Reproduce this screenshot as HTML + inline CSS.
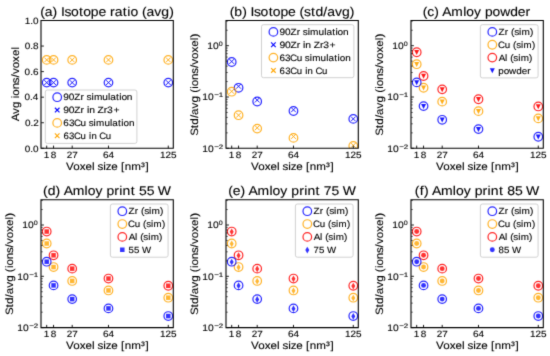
<!DOCTYPE html>
<html><head><meta charset="utf-8"><style>
html,body{margin:0;padding:0;background:#fff;}
svg{display:block;}
text{font-family:"Liberation Sans",sans-serif;fill:#000;text-rendering:geometricPrecision;stroke:#000;stroke-width:0.12px;}
</style></head><body>
<svg width="550" height="356" viewBox="0 0 550 356">
<defs><clipPath id="c00"><rect x="41.20" y="20.50" width="132.10" height="127.80"/></clipPath><clipPath id="c01"><rect x="41.20" y="199.80" width="132.10" height="127.80"/></clipPath><clipPath id="c10"><rect x="226.20" y="20.50" width="132.10" height="127.80"/></clipPath><clipPath id="c11"><rect x="226.20" y="199.80" width="132.10" height="127.80"/></clipPath><clipPath id="c20"><rect x="411.20" y="20.50" width="132.10" height="127.80"/></clipPath><clipPath id="c21"><rect x="411.20" y="199.80" width="132.10" height="127.80"/></clipPath><filter id="bl" x="0" y="0" width="550" height="356" filterUnits="userSpaceOnUse" color-interpolation-filters="sRGB"><feConvolveMatrix order="3" kernelMatrix="0.0144 0.0912 0.0144 0.0912 0.5776 0.0912 0.0144 0.0912 0.0144" divisor="1" edgeMode="duplicate"/></filter></defs>
<g filter="url(#bl)">
<rect width="550" height="356" fill="#fff"/>
<g clip-path="url(#c00)">
<circle cx="46.70" cy="82.60" r="4.3" fill="none" stroke="#0000ff" stroke-width="1.2" stroke-opacity="0.85"/>
<circle cx="53.56" cy="82.60" r="4.3" fill="none" stroke="#0000ff" stroke-width="1.2" stroke-opacity="0.85"/>
<circle cx="72.19" cy="82.60" r="4.3" fill="none" stroke="#0000ff" stroke-width="1.2" stroke-opacity="0.85"/>
<circle cx="108.47" cy="82.60" r="4.3" fill="none" stroke="#0000ff" stroke-width="1.2" stroke-opacity="0.85"/>
<circle cx="168.28" cy="82.60" r="4.3" fill="none" stroke="#0000ff" stroke-width="1.2" stroke-opacity="0.85"/>
<path d="M44.30,80.20L49.10,85.00M44.30,85.00L49.10,80.20" stroke="#0000ff" stroke-width="0.9" fill="none"/>
<path d="M51.16,80.20L55.96,85.00M51.16,85.00L55.96,80.20" stroke="#0000ff" stroke-width="0.9" fill="none"/>
<path d="M69.79,80.20L74.59,85.00M69.79,85.00L74.59,80.20" stroke="#0000ff" stroke-width="0.9" fill="none"/>
<path d="M106.07,80.20L110.87,85.00M106.07,85.00L110.87,80.20" stroke="#0000ff" stroke-width="0.9" fill="none"/>
<path d="M165.88,80.20L170.68,85.00M165.88,85.00L170.68,80.20" stroke="#0000ff" stroke-width="0.9" fill="none"/>
<circle cx="46.70" cy="59.90" r="4.3" fill="none" stroke="#ffa500" stroke-width="1.2" stroke-opacity="0.85"/>
<circle cx="53.56" cy="59.90" r="4.3" fill="none" stroke="#ffa500" stroke-width="1.2" stroke-opacity="0.85"/>
<circle cx="72.19" cy="59.90" r="4.3" fill="none" stroke="#ffa500" stroke-width="1.2" stroke-opacity="0.85"/>
<circle cx="108.47" cy="59.90" r="4.3" fill="none" stroke="#ffa500" stroke-width="1.2" stroke-opacity="0.85"/>
<circle cx="168.28" cy="59.90" r="4.3" fill="none" stroke="#ffa500" stroke-width="1.2" stroke-opacity="0.85"/>
<path d="M44.30,57.50L49.10,62.30M44.30,62.30L49.10,57.50" stroke="#ffa500" stroke-width="0.9" fill="none"/>
<path d="M51.16,57.50L55.96,62.30M51.16,62.30L55.96,57.50" stroke="#ffa500" stroke-width="0.9" fill="none"/>
<path d="M69.79,57.50L74.59,62.30M69.79,62.30L74.59,57.50" stroke="#ffa500" stroke-width="0.9" fill="none"/>
<path d="M106.07,57.50L110.87,62.30M106.07,62.30L110.87,57.50" stroke="#ffa500" stroke-width="0.9" fill="none"/>
<path d="M165.88,57.50L170.68,62.30M165.88,62.30L170.68,57.50" stroke="#ffa500" stroke-width="0.9" fill="none"/>
</g>
<path d="M41.00,20.50H173.30V148.30H41.00Z" fill="none" stroke="#000" stroke-width="1.1"/>
<line x1="46.70" y1="148.30" x2="46.70" y2="145.60" stroke="#000" stroke-width="0.9"/>
<text transform="translate(46.70,157.70) scale(1.0895,1)" x="-2.61" y="0" font-size="9.13">1</text>
<line x1="53.56" y1="148.30" x2="53.56" y2="145.60" stroke="#000" stroke-width="0.9"/>
<text transform="translate(53.56,157.70) scale(1.0895,1)" x="-2.54" y="0" font-size="9.13">8</text>
<line x1="72.19" y1="148.30" x2="72.19" y2="145.60" stroke="#000" stroke-width="0.9"/>
<text transform="translate(72.19,157.70) scale(1.0895,1)" x="-5.03 0.05" y="0" font-size="9.13">27</text>
<line x1="108.47" y1="148.30" x2="108.47" y2="145.60" stroke="#000" stroke-width="0.9"/>
<text transform="translate(108.47,157.70) scale(1.0895,1)" x="-5.14 -0.05" y="0" font-size="9.13">64</text>
<line x1="168.28" y1="148.30" x2="168.28" y2="145.60" stroke="#000" stroke-width="0.9"/>
<text transform="translate(168.28,157.70) scale(1.0895,1)" x="-7.71 -2.63 2.45" y="0" font-size="9.13">125</text>
<text transform="translate(107.30,169.80) scale(1.0905,1)" x="-37.91 -31.29 -25.39 -20.07 -14.13 -11.66 -8.94 -3.74 -1.48 3.52 9.35 12.64 15.93 21.93 31.00 34.97" y="0" font-size="10.66">Voxel size [nm³]</text>
<line x1="41.20" y1="148.30" x2="43.90" y2="148.30" stroke="#000" stroke-width="0.9"/>
<text transform="translate(37.90,151.60) scale(1.0895,1)" x="-12.17 -7.09 -4.55" y="0" font-size="9.13">0.0</text>
<line x1="41.20" y1="122.74" x2="43.90" y2="122.74" stroke="#000" stroke-width="0.9"/>
<text transform="translate(37.90,126.04) scale(1.0895,1)" x="-11.90 -6.82 -4.28" y="0" font-size="9.13">0.2</text>
<line x1="41.20" y1="97.18" x2="43.90" y2="97.18" stroke="#000" stroke-width="0.9"/>
<text transform="translate(37.90,100.48) scale(1.0895,1)" x="-12.25 -7.17 -4.63" y="0" font-size="9.13">0.4</text>
<line x1="41.20" y1="71.62" x2="43.90" y2="71.62" stroke="#000" stroke-width="0.9"/>
<text transform="translate(37.90,74.92) scale(1.0895,1)" x="-12.20 -7.12 -4.58" y="0" font-size="9.13">0.6</text>
<line x1="41.20" y1="46.06" x2="43.90" y2="46.06" stroke="#000" stroke-width="0.9"/>
<text transform="translate(37.90,49.36) scale(1.0895,1)" x="-12.15 -7.07 -4.53" y="0" font-size="9.13">0.8</text>
<line x1="41.20" y1="20.50" x2="43.90" y2="20.50" stroke="#000" stroke-width="0.9"/>
<text transform="translate(37.90,23.80) scale(1.0895,1)" x="-12.17 -7.09 -4.55" y="0" font-size="9.13">1.0</text>
<rect x="45.30" y="90.00" width="91.60" height="53.40" rx="2" ry="2" fill="#fff" fill-opacity="0.8" stroke="#cccccc" stroke-width="0.9"/>
<circle cx="57.20" cy="97.20" r="4.3" fill="none" stroke="#0000ff" stroke-width="1.2" stroke-opacity="0.85"/>
<text transform="translate(63.90,100.30) scale(1.1005,1)" x="-0.53 4.53 9.53 15.17 18.32 20.63 25.08 27.26 34.92 40.08 42.08 47.36 50.28 52.28 57.23" y="0" font-size="9.19">90Zr simulation</text>
<path d="M54.90,107.75L59.50,112.35M54.90,112.35L59.50,107.75" stroke="#0000ff" stroke-width="1.1" fill="none"/>
<text transform="translate(63.90,113.15) scale(1.1285,1)" x="-0.58 4.36 9.23 14.75 17.83 20.40 22.40 27.37 29.73 35.25 38.29 43.87" y="0" font-size="9.19">90Zr in Zr3+</text>
<circle cx="57.20" cy="122.90" r="4.3" fill="none" stroke="#ffa500" stroke-width="1.2" stroke-opacity="0.85"/>
<text transform="translate(63.90,126.00) scale(1.0805,1)" x="-0.54 4.61 9.25 15.40 20.54 22.91 27.42 29.69 37.47 42.69 44.77 50.11 53.08 55.15 60.19" y="0" font-size="9.19">63Cu simulation</text>
<path d="M54.90,133.45L59.50,138.05M54.90,138.05L59.50,133.45" stroke="#ffa500" stroke-width="1.1" fill="none"/>
<text transform="translate(63.90,138.85) scale(1.0439,1)" x="-0.47 4.86 9.69 16.03 21.30 24.05 26.34 31.61 33.82 40.17" y="0" font-size="9.19">63Cu in Cu</text>
<text transform="translate(107.05,15.50) scale(1.0913,1)" x="-61.18 -57.00 -49.97 -45.66 -42.23 -39.09 -33.12 -25.73 -21.90 -14.93 -7.94 -0.94 2.78 7.07 14.47 18.57 21.41 28.39 31.99 36.17 43.26 49.76 56.92" y="0" font-size="12.81">(a) Isotope ratio (avg)</text>
<text transform="translate(19.30,84.40) rotate(-90) scale(1.0780,1)" x="-34.29 -27.39 -21.92 -15.95 -12.85 -10.44 -4.57 1.16 6.38 9.57 14.94 20.90 26.29 32.27" y="0" font-size="10.66">Avg ions/voxel</text>
<g clip-path="url(#c10)">
<circle cx="231.70" cy="62.00" r="4.3" fill="none" stroke="#0000ff" stroke-width="1.2" stroke-opacity="0.85"/>
<circle cx="238.56" cy="87.80" r="4.3" fill="none" stroke="#0000ff" stroke-width="1.2" stroke-opacity="0.85"/>
<circle cx="257.19" cy="101.50" r="4.3" fill="none" stroke="#0000ff" stroke-width="1.2" stroke-opacity="0.85"/>
<circle cx="293.47" cy="111.00" r="4.3" fill="none" stroke="#0000ff" stroke-width="1.2" stroke-opacity="0.85"/>
<circle cx="353.28" cy="118.90" r="4.3" fill="none" stroke="#0000ff" stroke-width="1.2" stroke-opacity="0.85"/>
<path d="M229.30,59.10L234.10,63.90M229.30,63.90L234.10,59.10" stroke="#0000ff" stroke-width="0.9" fill="none"/>
<path d="M236.16,83.90L240.96,88.70M236.16,88.70L240.96,83.90" stroke="#0000ff" stroke-width="0.9" fill="none"/>
<path d="M254.79,97.70L259.59,102.50M254.79,102.50L259.59,97.70" stroke="#0000ff" stroke-width="0.9" fill="none"/>
<path d="M291.07,107.40L295.87,112.20M291.07,112.20L295.87,107.40" stroke="#0000ff" stroke-width="0.9" fill="none"/>
<path d="M350.88,116.50L355.68,121.30M350.88,121.30L355.68,116.50" stroke="#0000ff" stroke-width="0.9" fill="none"/>
<circle cx="231.70" cy="91.70" r="4.3" fill="none" stroke="#ffa500" stroke-width="1.2" stroke-opacity="0.85"/>
<circle cx="238.56" cy="115.20" r="4.3" fill="none" stroke="#ffa500" stroke-width="1.2" stroke-opacity="0.85"/>
<circle cx="257.19" cy="128.60" r="4.3" fill="none" stroke="#ffa500" stroke-width="1.2" stroke-opacity="0.85"/>
<circle cx="293.47" cy="137.90" r="4.3" fill="none" stroke="#ffa500" stroke-width="1.2" stroke-opacity="0.85"/>
<circle cx="353.28" cy="146.00" r="4.3" fill="none" stroke="#ffa500" stroke-width="1.2" stroke-opacity="0.85"/>
<path d="M229.30,89.00L234.10,93.80M229.30,93.80L234.10,89.00" stroke="#ffa500" stroke-width="0.9" fill="none"/>
<path d="M236.16,112.80L240.96,117.60M236.16,117.60L240.96,112.80" stroke="#ffa500" stroke-width="0.9" fill="none"/>
<path d="M254.79,125.40L259.59,130.20M254.79,130.20L259.59,125.40" stroke="#ffa500" stroke-width="0.9" fill="none"/>
<path d="M291.07,134.10L295.87,138.90M291.07,138.90L295.87,134.10" stroke="#ffa500" stroke-width="0.9" fill="none"/>
<path d="M350.88,143.00L355.68,147.80M350.88,147.80L355.68,143.00" stroke="#ffa500" stroke-width="0.9" fill="none"/>
</g>
<path d="M226.00,20.50H358.30V148.30H226.00Z" fill="none" stroke="#000" stroke-width="1.1"/>
<line x1="231.70" y1="148.30" x2="231.70" y2="145.60" stroke="#000" stroke-width="0.9"/>
<text transform="translate(231.70,157.70) scale(1.0895,1)" x="-2.61" y="0" font-size="9.13">1</text>
<line x1="238.56" y1="148.30" x2="238.56" y2="145.60" stroke="#000" stroke-width="0.9"/>
<text transform="translate(238.56,157.70) scale(1.0895,1)" x="-2.54" y="0" font-size="9.13">8</text>
<line x1="257.19" y1="148.30" x2="257.19" y2="145.60" stroke="#000" stroke-width="0.9"/>
<text transform="translate(257.19,157.70) scale(1.0895,1)" x="-5.03 0.05" y="0" font-size="9.13">27</text>
<line x1="293.47" y1="148.30" x2="293.47" y2="145.60" stroke="#000" stroke-width="0.9"/>
<text transform="translate(293.47,157.70) scale(1.0895,1)" x="-5.14 -0.05" y="0" font-size="9.13">64</text>
<line x1="353.28" y1="148.30" x2="353.28" y2="145.60" stroke="#000" stroke-width="0.9"/>
<text transform="translate(353.28,157.70) scale(1.0895,1)" x="-7.71 -2.63 2.45" y="0" font-size="9.13">125</text>
<text transform="translate(292.30,169.80) scale(1.0905,1)" x="-37.91 -31.29 -25.39 -20.07 -14.13 -11.66 -8.94 -3.74 -1.48 3.52 9.35 12.64 15.93 21.93 31.00 34.97" y="0" font-size="10.66">Voxel size [nm³]</text>
<line x1="226.20" y1="148.30" x2="228.90" y2="148.30" stroke="#000" stroke-width="0.9"/>
<line x1="226.20" y1="132.86" x2="227.70" y2="132.86" stroke="#000" stroke-width="0.7"/>
<line x1="226.20" y1="123.82" x2="227.70" y2="123.82" stroke="#000" stroke-width="0.7"/>
<line x1="226.20" y1="117.41" x2="227.70" y2="117.41" stroke="#000" stroke-width="0.7"/>
<line x1="226.20" y1="112.44" x2="227.70" y2="112.44" stroke="#000" stroke-width="0.7"/>
<line x1="226.20" y1="108.38" x2="227.70" y2="108.38" stroke="#000" stroke-width="0.7"/>
<line x1="226.20" y1="104.95" x2="227.70" y2="104.95" stroke="#000" stroke-width="0.7"/>
<line x1="226.20" y1="101.97" x2="227.70" y2="101.97" stroke="#000" stroke-width="0.7"/>
<line x1="226.20" y1="99.35" x2="227.70" y2="99.35" stroke="#000" stroke-width="0.7"/>
<text transform="translate(203.35,151.70) scale(1.0895,1)" x="-0.91 4.35" y="0" font-size="9.45">10</text>
<text transform="translate(214.55,148.50) scale(1.2314,1)" x="-0.32 3.48" y="0" font-size="6.51">−2</text>
<line x1="226.20" y1="97.00" x2="228.90" y2="97.00" stroke="#000" stroke-width="0.9"/>
<line x1="226.20" y1="81.56" x2="227.70" y2="81.56" stroke="#000" stroke-width="0.7"/>
<line x1="226.20" y1="72.52" x2="227.70" y2="72.52" stroke="#000" stroke-width="0.7"/>
<line x1="226.20" y1="66.11" x2="227.70" y2="66.11" stroke="#000" stroke-width="0.7"/>
<line x1="226.20" y1="61.14" x2="227.70" y2="61.14" stroke="#000" stroke-width="0.7"/>
<line x1="226.20" y1="57.08" x2="227.70" y2="57.08" stroke="#000" stroke-width="0.7"/>
<line x1="226.20" y1="53.65" x2="227.70" y2="53.65" stroke="#000" stroke-width="0.7"/>
<line x1="226.20" y1="50.67" x2="227.70" y2="50.67" stroke="#000" stroke-width="0.7"/>
<line x1="226.20" y1="48.05" x2="227.70" y2="48.05" stroke="#000" stroke-width="0.7"/>
<text transform="translate(203.35,100.40) scale(1.0895,1)" x="-0.91 4.35" y="0" font-size="9.45">10</text>
<text transform="translate(214.55,97.20) scale(1.2314,1)" x="-0.32 3.48" y="0" font-size="6.51">−1</text>
<line x1="226.20" y1="45.70" x2="228.90" y2="45.70" stroke="#000" stroke-width="0.9"/>
<line x1="226.20" y1="30.26" x2="227.70" y2="30.26" stroke="#000" stroke-width="0.7"/>
<line x1="226.20" y1="21.22" x2="227.70" y2="21.22" stroke="#000" stroke-width="0.7"/>
<text transform="translate(208.35,49.10) scale(1.0895,1)" x="-0.91 4.35" y="0" font-size="9.45">10</text>
<text transform="translate(219.05,45.90) scale(1.0895,1)" x="-0.38" y="0" font-size="6.51">0</text>
<rect x="261.50" y="24.70" width="92.40" height="53.00" rx="2" ry="2" fill="#fff" fill-opacity="0.8" stroke="#cccccc" stroke-width="0.9"/>
<circle cx="273.40" cy="31.90" r="4.3" fill="none" stroke="#0000ff" stroke-width="1.2" stroke-opacity="0.85"/>
<text transform="translate(280.10,35.00) scale(1.1005,1)" x="-0.53 4.53 9.53 15.17 18.32 20.63 25.08 27.26 34.92 40.08 42.08 47.36 50.28 52.28 57.23" y="0" font-size="9.19">90Zr simulation</text>
<path d="M271.10,42.45L275.70,47.05M271.10,47.05L275.70,42.45" stroke="#0000ff" stroke-width="1.1" fill="none"/>
<text transform="translate(280.10,47.85) scale(1.1285,1)" x="-0.58 4.36 9.23 14.75 17.83 20.40 22.40 27.37 29.73 35.25 38.29 43.87" y="0" font-size="9.19">90Zr in Zr3+</text>
<circle cx="273.40" cy="57.60" r="4.3" fill="none" stroke="#ffa500" stroke-width="1.2" stroke-opacity="0.85"/>
<text transform="translate(280.10,60.70) scale(1.0805,1)" x="-0.54 4.61 9.25 15.40 20.54 22.91 27.42 29.69 37.47 42.69 44.77 50.11 53.08 55.15 60.19" y="0" font-size="9.19">63Cu simulation</text>
<path d="M271.10,68.15L275.70,72.75M271.10,72.75L275.70,68.15" stroke="#ffa500" stroke-width="1.1" fill="none"/>
<text transform="translate(280.10,73.55) scale(1.0439,1)" x="-0.47 4.86 9.69 16.03 21.30 24.05 26.34 31.61 33.82 40.17" y="0" font-size="9.19">63Cu in Cu</text>
<text transform="translate(292.05,15.50) scale(1.0895,1)" x="-57.26 -52.95 -45.79 -41.47 -38.04 -34.89 -28.91 -21.51 -17.67 -10.69 -3.69 3.32 6.93 10.96 17.49 21.46 28.68 32.22 39.32 45.83 53.00" y="0" font-size="12.81">(b) Isotope (std/avg)</text>
<text transform="translate(197.90,84.40) rotate(-90) scale(1.0851,1)" x="-47.29 -40.41 -37.09 -31.06 -28.11 -22.17 -16.74 -10.80 -7.78 -4.07 -1.68 4.14 9.84 15.04 18.20 23.53 29.45 34.80 40.76 43.29" y="0" font-size="10.66">Std/avg (ions/voxel)</text>
<g clip-path="url(#c20)">
<circle cx="416.70" cy="52.25" r="4.3" fill="none" stroke="#ff0000" stroke-width="1.2" stroke-opacity="0.85"/>
<circle cx="423.56" cy="76.00" r="4.3" fill="none" stroke="#ff0000" stroke-width="1.2" stroke-opacity="0.85"/>
<circle cx="442.19" cy="89.35" r="4.3" fill="none" stroke="#ff0000" stroke-width="1.2" stroke-opacity="0.85"/>
<circle cx="478.47" cy="99.25" r="4.3" fill="none" stroke="#ff0000" stroke-width="1.2" stroke-opacity="0.85"/>
<circle cx="538.28" cy="106.45" r="4.3" fill="none" stroke="#ff0000" stroke-width="1.2" stroke-opacity="0.85"/>
<circle cx="416.70" cy="64.20" r="4.3" fill="none" stroke="#ffa500" stroke-width="1.2" stroke-opacity="0.85"/>
<circle cx="423.56" cy="87.75" r="4.3" fill="none" stroke="#ffa500" stroke-width="1.2" stroke-opacity="0.85"/>
<circle cx="442.19" cy="101.65" r="4.3" fill="none" stroke="#ffa500" stroke-width="1.2" stroke-opacity="0.85"/>
<circle cx="478.47" cy="111.15" r="4.3" fill="none" stroke="#ffa500" stroke-width="1.2" stroke-opacity="0.85"/>
<circle cx="538.28" cy="118.40" r="4.3" fill="none" stroke="#ffa500" stroke-width="1.2" stroke-opacity="0.85"/>
<circle cx="416.70" cy="82.40" r="4.3" fill="none" stroke="#0000ff" stroke-width="1.2" stroke-opacity="0.85"/>
<circle cx="423.56" cy="106.10" r="4.3" fill="none" stroke="#0000ff" stroke-width="1.2" stroke-opacity="0.85"/>
<circle cx="442.19" cy="119.80" r="4.3" fill="none" stroke="#0000ff" stroke-width="1.2" stroke-opacity="0.85"/>
<circle cx="478.47" cy="129.10" r="4.3" fill="none" stroke="#0000ff" stroke-width="1.2" stroke-opacity="0.85"/>
<circle cx="538.28" cy="136.75" r="4.3" fill="none" stroke="#0000ff" stroke-width="1.2" stroke-opacity="0.85"/>
<path d="M414.20,50.05L419.20,50.05L416.70,55.05Z" fill="#ff0000" fill-opacity="0.9"/>
<path d="M421.06,73.80L426.06,73.80L423.56,78.80Z" fill="#ff0000" fill-opacity="0.9"/>
<path d="M439.69,87.15L444.69,87.15L442.19,92.15Z" fill="#ff0000" fill-opacity="0.9"/>
<path d="M475.97,97.05L480.97,97.05L478.47,102.05Z" fill="#ff0000" fill-opacity="0.9"/>
<path d="M535.78,104.25L540.78,104.25L538.28,109.25Z" fill="#ff0000" fill-opacity="0.9"/>
<path d="M414.20,62.00L419.20,62.00L416.70,67.00Z" fill="#ffa500" fill-opacity="0.9"/>
<path d="M421.06,85.55L426.06,85.55L423.56,90.55Z" fill="#ffa500" fill-opacity="0.9"/>
<path d="M439.69,99.45L444.69,99.45L442.19,104.45Z" fill="#ffa500" fill-opacity="0.9"/>
<path d="M475.97,108.95L480.97,108.95L478.47,113.95Z" fill="#ffa500" fill-opacity="0.9"/>
<path d="M535.78,116.20L540.78,116.20L538.28,121.20Z" fill="#ffa500" fill-opacity="0.9"/>
<path d="M414.20,80.20L419.20,80.20L416.70,85.20Z" fill="#0000ff" fill-opacity="0.9"/>
<path d="M421.06,103.90L426.06,103.90L423.56,108.90Z" fill="#0000ff" fill-opacity="0.9"/>
<path d="M439.69,117.60L444.69,117.60L442.19,122.60Z" fill="#0000ff" fill-opacity="0.9"/>
<path d="M475.97,126.90L480.97,126.90L478.47,131.90Z" fill="#0000ff" fill-opacity="0.9"/>
<path d="M535.78,134.55L540.78,134.55L538.28,139.55Z" fill="#0000ff" fill-opacity="0.9"/>
</g>
<path d="M411.00,20.50H543.30V148.30H411.00Z" fill="none" stroke="#000" stroke-width="1.1"/>
<line x1="416.70" y1="148.30" x2="416.70" y2="145.60" stroke="#000" stroke-width="0.9"/>
<text transform="translate(416.70,157.70) scale(1.0895,1)" x="-2.61" y="0" font-size="9.13">1</text>
<line x1="423.56" y1="148.30" x2="423.56" y2="145.60" stroke="#000" stroke-width="0.9"/>
<text transform="translate(423.56,157.70) scale(1.0895,1)" x="-2.54" y="0" font-size="9.13">8</text>
<line x1="442.19" y1="148.30" x2="442.19" y2="145.60" stroke="#000" stroke-width="0.9"/>
<text transform="translate(442.19,157.70) scale(1.0895,1)" x="-5.03 0.05" y="0" font-size="9.13">27</text>
<line x1="478.47" y1="148.30" x2="478.47" y2="145.60" stroke="#000" stroke-width="0.9"/>
<text transform="translate(478.47,157.70) scale(1.0895,1)" x="-5.14 -0.05" y="0" font-size="9.13">64</text>
<line x1="538.28" y1="148.30" x2="538.28" y2="145.60" stroke="#000" stroke-width="0.9"/>
<text transform="translate(538.28,157.70) scale(1.0895,1)" x="-7.71 -2.63 2.45" y="0" font-size="9.13">125</text>
<text transform="translate(477.30,169.80) scale(1.0905,1)" x="-37.91 -31.29 -25.39 -20.07 -14.13 -11.66 -8.94 -3.74 -1.48 3.52 9.35 12.64 15.93 21.93 31.00 34.97" y="0" font-size="10.66">Voxel size [nm³]</text>
<line x1="411.20" y1="148.30" x2="413.90" y2="148.30" stroke="#000" stroke-width="0.9"/>
<line x1="411.20" y1="132.86" x2="412.70" y2="132.86" stroke="#000" stroke-width="0.7"/>
<line x1="411.20" y1="123.82" x2="412.70" y2="123.82" stroke="#000" stroke-width="0.7"/>
<line x1="411.20" y1="117.41" x2="412.70" y2="117.41" stroke="#000" stroke-width="0.7"/>
<line x1="411.20" y1="112.44" x2="412.70" y2="112.44" stroke="#000" stroke-width="0.7"/>
<line x1="411.20" y1="108.38" x2="412.70" y2="108.38" stroke="#000" stroke-width="0.7"/>
<line x1="411.20" y1="104.95" x2="412.70" y2="104.95" stroke="#000" stroke-width="0.7"/>
<line x1="411.20" y1="101.97" x2="412.70" y2="101.97" stroke="#000" stroke-width="0.7"/>
<line x1="411.20" y1="99.35" x2="412.70" y2="99.35" stroke="#000" stroke-width="0.7"/>
<text transform="translate(388.35,151.70) scale(1.0895,1)" x="-0.91 4.35" y="0" font-size="9.45">10</text>
<text transform="translate(399.55,148.50) scale(1.2314,1)" x="-0.32 3.48" y="0" font-size="6.51">−2</text>
<line x1="411.20" y1="97.00" x2="413.90" y2="97.00" stroke="#000" stroke-width="0.9"/>
<line x1="411.20" y1="81.56" x2="412.70" y2="81.56" stroke="#000" stroke-width="0.7"/>
<line x1="411.20" y1="72.52" x2="412.70" y2="72.52" stroke="#000" stroke-width="0.7"/>
<line x1="411.20" y1="66.11" x2="412.70" y2="66.11" stroke="#000" stroke-width="0.7"/>
<line x1="411.20" y1="61.14" x2="412.70" y2="61.14" stroke="#000" stroke-width="0.7"/>
<line x1="411.20" y1="57.08" x2="412.70" y2="57.08" stroke="#000" stroke-width="0.7"/>
<line x1="411.20" y1="53.65" x2="412.70" y2="53.65" stroke="#000" stroke-width="0.7"/>
<line x1="411.20" y1="50.67" x2="412.70" y2="50.67" stroke="#000" stroke-width="0.7"/>
<line x1="411.20" y1="48.05" x2="412.70" y2="48.05" stroke="#000" stroke-width="0.7"/>
<text transform="translate(388.35,100.40) scale(1.0895,1)" x="-0.91 4.35" y="0" font-size="9.45">10</text>
<text transform="translate(399.55,97.20) scale(1.2314,1)" x="-0.32 3.48" y="0" font-size="6.51">−1</text>
<line x1="411.20" y1="45.70" x2="413.90" y2="45.70" stroke="#000" stroke-width="0.9"/>
<line x1="411.20" y1="30.26" x2="412.70" y2="30.26" stroke="#000" stroke-width="0.7"/>
<line x1="411.20" y1="21.22" x2="412.70" y2="21.22" stroke="#000" stroke-width="0.7"/>
<text transform="translate(393.35,49.10) scale(1.0895,1)" x="-0.91 4.35" y="0" font-size="9.45">10</text>
<text transform="translate(404.05,45.90) scale(1.0895,1)" x="-0.38" y="0" font-size="6.51">0</text>
<rect x="480.40" y="24.70" width="57.70" height="53.20" rx="2" ry="2" fill="#fff" fill-opacity="0.8" stroke="#cccccc" stroke-width="0.9"/>
<circle cx="492.30" cy="31.90" r="4.3" fill="none" stroke="#0000ff" stroke-width="1.2" stroke-opacity="0.85"/>
<text transform="translate(499.00,35.00) scale(1.0974,1)" x="-0.43 5.21 8.37 10.94 13.81 18.27 20.45 28.19" y="0" font-size="9.19">Zr (sim)</text>
<circle cx="492.30" cy="44.75" r="4.3" fill="none" stroke="#ffa500" stroke-width="1.2" stroke-opacity="0.85"/>
<text transform="translate(499.00,47.85) scale(1.0597,1)" x="-0.90 5.36 10.57 13.24 16.23 20.81 23.17 31.10" y="0" font-size="9.19">Cu (sim)</text>
<circle cx="492.30" cy="57.60" r="4.3" fill="none" stroke="#ff0000" stroke-width="1.2" stroke-opacity="0.85"/>
<text transform="translate(499.00,60.70) scale(1.0774,1)" x="-0.35 5.60 7.76 10.38 13.32 17.84 20.11 27.95" y="0" font-size="9.19">Al (sim)</text>
<path d="M489.80,68.25L494.80,68.25L492.30,73.25Z" fill="#0000ff" fill-opacity="0.9"/>
<text transform="translate(499.00,73.55) scale(1.0818,1)" x="-0.72 4.32 9.34 15.98 21.03 26.21" y="0" font-size="9.19">powder</text>
<text transform="translate(477.05,15.50) scale(1.0811,1)" x="-50.25 -46.01 -39.64 -35.29 -32.13 -23.84 -12.86 -9.98 -2.83 3.73 7.32 14.35 21.36 30.62 37.67 44.89" y="0" font-size="12.81">(c) Amloy powder</text>
<text transform="translate(382.90,84.40) rotate(-90) scale(1.0851,1)" x="-47.29 -40.41 -37.09 -31.06 -28.11 -22.17 -16.74 -10.80 -7.78 -4.07 -1.68 4.14 9.84 15.04 18.20 23.53 29.45 34.80 40.76 43.29" y="0" font-size="10.66">Std/avg (ions/voxel)</text>
<g clip-path="url(#c01)">
<circle cx="46.70" cy="231.55" r="4.3" fill="none" stroke="#ff0000" stroke-width="1.2" stroke-opacity="0.85"/>
<circle cx="53.56" cy="255.30" r="4.3" fill="none" stroke="#ff0000" stroke-width="1.2" stroke-opacity="0.85"/>
<circle cx="72.19" cy="268.65" r="4.3" fill="none" stroke="#ff0000" stroke-width="1.2" stroke-opacity="0.85"/>
<circle cx="108.47" cy="278.55" r="4.3" fill="none" stroke="#ff0000" stroke-width="1.2" stroke-opacity="0.85"/>
<circle cx="168.28" cy="285.75" r="4.3" fill="none" stroke="#ff0000" stroke-width="1.2" stroke-opacity="0.85"/>
<circle cx="46.70" cy="243.50" r="4.3" fill="none" stroke="#ffa500" stroke-width="1.2" stroke-opacity="0.85"/>
<circle cx="53.56" cy="267.05" r="4.3" fill="none" stroke="#ffa500" stroke-width="1.2" stroke-opacity="0.85"/>
<circle cx="72.19" cy="280.95" r="4.3" fill="none" stroke="#ffa500" stroke-width="1.2" stroke-opacity="0.85"/>
<circle cx="108.47" cy="290.45" r="4.3" fill="none" stroke="#ffa500" stroke-width="1.2" stroke-opacity="0.85"/>
<circle cx="168.28" cy="297.70" r="4.3" fill="none" stroke="#ffa500" stroke-width="1.2" stroke-opacity="0.85"/>
<circle cx="46.70" cy="261.70" r="4.3" fill="none" stroke="#0000ff" stroke-width="1.2" stroke-opacity="0.85"/>
<circle cx="53.56" cy="285.40" r="4.3" fill="none" stroke="#0000ff" stroke-width="1.2" stroke-opacity="0.85"/>
<circle cx="72.19" cy="299.10" r="4.3" fill="none" stroke="#0000ff" stroke-width="1.2" stroke-opacity="0.85"/>
<circle cx="108.47" cy="308.40" r="4.3" fill="none" stroke="#0000ff" stroke-width="1.2" stroke-opacity="0.85"/>
<circle cx="168.28" cy="316.05" r="4.3" fill="none" stroke="#0000ff" stroke-width="1.2" stroke-opacity="0.85"/>
<rect x="44.45" y="229.30" width="4.5" height="4.5" fill="#ff0000" fill-opacity="0.8"/>
<rect x="51.31" y="253.05" width="4.5" height="4.5" fill="#ff0000" fill-opacity="0.8"/>
<rect x="69.94" y="266.40" width="4.5" height="4.5" fill="#ff0000" fill-opacity="0.8"/>
<rect x="106.22" y="276.30" width="4.5" height="4.5" fill="#ff0000" fill-opacity="0.8"/>
<rect x="166.03" y="283.50" width="4.5" height="4.5" fill="#ff0000" fill-opacity="0.8"/>
<rect x="44.45" y="241.25" width="4.5" height="4.5" fill="#ffa500" fill-opacity="0.8"/>
<rect x="51.31" y="264.80" width="4.5" height="4.5" fill="#ffa500" fill-opacity="0.8"/>
<rect x="69.94" y="278.70" width="4.5" height="4.5" fill="#ffa500" fill-opacity="0.8"/>
<rect x="106.22" y="288.20" width="4.5" height="4.5" fill="#ffa500" fill-opacity="0.8"/>
<rect x="166.03" y="295.45" width="4.5" height="4.5" fill="#ffa500" fill-opacity="0.8"/>
<rect x="44.45" y="259.45" width="4.5" height="4.5" fill="#0000ff" fill-opacity="0.8"/>
<rect x="51.31" y="283.15" width="4.5" height="4.5" fill="#0000ff" fill-opacity="0.8"/>
<rect x="69.94" y="296.85" width="4.5" height="4.5" fill="#0000ff" fill-opacity="0.8"/>
<rect x="106.22" y="306.15" width="4.5" height="4.5" fill="#0000ff" fill-opacity="0.8"/>
<rect x="166.03" y="313.80" width="4.5" height="4.5" fill="#0000ff" fill-opacity="0.8"/>
</g>
<path d="M41.00,199.80H173.30V327.60H41.00Z" fill="none" stroke="#000" stroke-width="1.1"/>
<line x1="46.70" y1="327.60" x2="46.70" y2="324.90" stroke="#000" stroke-width="0.9"/>
<text transform="translate(46.70,337.00) scale(1.0895,1)" x="-2.61" y="0" font-size="9.13">1</text>
<line x1="53.56" y1="327.60" x2="53.56" y2="324.90" stroke="#000" stroke-width="0.9"/>
<text transform="translate(53.56,337.00) scale(1.0895,1)" x="-2.54" y="0" font-size="9.13">8</text>
<line x1="72.19" y1="327.60" x2="72.19" y2="324.90" stroke="#000" stroke-width="0.9"/>
<text transform="translate(72.19,337.00) scale(1.0895,1)" x="-5.03 0.05" y="0" font-size="9.13">27</text>
<line x1="108.47" y1="327.60" x2="108.47" y2="324.90" stroke="#000" stroke-width="0.9"/>
<text transform="translate(108.47,337.00) scale(1.0895,1)" x="-5.14 -0.05" y="0" font-size="9.13">64</text>
<line x1="168.28" y1="327.60" x2="168.28" y2="324.90" stroke="#000" stroke-width="0.9"/>
<text transform="translate(168.28,337.00) scale(1.0895,1)" x="-7.71 -2.63 2.45" y="0" font-size="9.13">125</text>
<text transform="translate(107.30,349.10) scale(1.0905,1)" x="-37.91 -31.29 -25.39 -20.07 -14.13 -11.66 -8.94 -3.74 -1.48 3.52 9.35 12.64 15.93 21.93 31.00 34.97" y="0" font-size="10.66">Voxel size [nm³]</text>
<line x1="41.20" y1="327.60" x2="43.90" y2="327.60" stroke="#000" stroke-width="0.9"/>
<line x1="41.20" y1="312.16" x2="42.70" y2="312.16" stroke="#000" stroke-width="0.7"/>
<line x1="41.20" y1="303.12" x2="42.70" y2="303.12" stroke="#000" stroke-width="0.7"/>
<line x1="41.20" y1="296.71" x2="42.70" y2="296.71" stroke="#000" stroke-width="0.7"/>
<line x1="41.20" y1="291.74" x2="42.70" y2="291.74" stroke="#000" stroke-width="0.7"/>
<line x1="41.20" y1="287.68" x2="42.70" y2="287.68" stroke="#000" stroke-width="0.7"/>
<line x1="41.20" y1="284.25" x2="42.70" y2="284.25" stroke="#000" stroke-width="0.7"/>
<line x1="41.20" y1="281.27" x2="42.70" y2="281.27" stroke="#000" stroke-width="0.7"/>
<line x1="41.20" y1="278.65" x2="42.70" y2="278.65" stroke="#000" stroke-width="0.7"/>
<text transform="translate(18.35,331.00) scale(1.0895,1)" x="-0.91 4.35" y="0" font-size="9.45">10</text>
<text transform="translate(29.55,327.80) scale(1.2314,1)" x="-0.32 3.48" y="0" font-size="6.51">−2</text>
<line x1="41.20" y1="276.30" x2="43.90" y2="276.30" stroke="#000" stroke-width="0.9"/>
<line x1="41.20" y1="260.86" x2="42.70" y2="260.86" stroke="#000" stroke-width="0.7"/>
<line x1="41.20" y1="251.82" x2="42.70" y2="251.82" stroke="#000" stroke-width="0.7"/>
<line x1="41.20" y1="245.41" x2="42.70" y2="245.41" stroke="#000" stroke-width="0.7"/>
<line x1="41.20" y1="240.44" x2="42.70" y2="240.44" stroke="#000" stroke-width="0.7"/>
<line x1="41.20" y1="236.38" x2="42.70" y2="236.38" stroke="#000" stroke-width="0.7"/>
<line x1="41.20" y1="232.95" x2="42.70" y2="232.95" stroke="#000" stroke-width="0.7"/>
<line x1="41.20" y1="229.97" x2="42.70" y2="229.97" stroke="#000" stroke-width="0.7"/>
<line x1="41.20" y1="227.35" x2="42.70" y2="227.35" stroke="#000" stroke-width="0.7"/>
<text transform="translate(18.35,279.70) scale(1.0895,1)" x="-0.91 4.35" y="0" font-size="9.45">10</text>
<text transform="translate(29.55,276.50) scale(1.2314,1)" x="-0.32 3.48" y="0" font-size="6.51">−1</text>
<line x1="41.20" y1="225.00" x2="43.90" y2="225.00" stroke="#000" stroke-width="0.9"/>
<line x1="41.20" y1="209.56" x2="42.70" y2="209.56" stroke="#000" stroke-width="0.7"/>
<line x1="41.20" y1="200.52" x2="42.70" y2="200.52" stroke="#000" stroke-width="0.7"/>
<text transform="translate(23.35,228.40) scale(1.0895,1)" x="-0.91 4.35" y="0" font-size="9.45">10</text>
<text transform="translate(34.05,225.20) scale(1.0895,1)" x="-0.38" y="0" font-size="6.51">0</text>
<rect x="110.40" y="204.00" width="57.70" height="53.20" rx="2" ry="2" fill="#fff" fill-opacity="0.8" stroke="#cccccc" stroke-width="0.9"/>
<circle cx="122.30" cy="211.20" r="4.3" fill="none" stroke="#0000ff" stroke-width="1.2" stroke-opacity="0.85"/>
<text transform="translate(129.00,214.30) scale(1.0974,1)" x="-0.43 5.21 8.37 10.94 13.81 18.27 20.45 28.19" y="0" font-size="9.19">Zr (sim)</text>
<circle cx="122.30" cy="224.05" r="4.3" fill="none" stroke="#ffa500" stroke-width="1.2" stroke-opacity="0.85"/>
<text transform="translate(129.00,227.15) scale(1.0597,1)" x="-0.90 5.36 10.57 13.24 16.23 20.81 23.17 31.10" y="0" font-size="9.19">Cu (sim)</text>
<circle cx="122.30" cy="236.90" r="4.3" fill="none" stroke="#ff0000" stroke-width="1.2" stroke-opacity="0.85"/>
<text transform="translate(129.00,240.00) scale(1.0774,1)" x="-0.35 5.60 7.76 10.38 13.32 17.84 20.11 27.95" y="0" font-size="9.19">Al (sim)</text>
<rect x="120.05" y="247.50" width="4.5" height="4.5" fill="#0000ff" fill-opacity="0.8"/>
<text transform="translate(129.00,252.85) scale(1.0524,1)" x="-0.55 4.74 9.98 12.36" y="0" font-size="9.19">55 W</text>
<text transform="translate(107.05,194.80) scale(1.0907,1)" x="-58.62 -54.32 -47.16 -42.84 -39.73 -31.52 -20.61 -17.77 -10.68 -4.17 -0.62 6.65 11.22 14.18 21.70 25.67 29.22 36.34 43.46 46.50" y="0" font-size="12.81">(d) Amloy print 55 W</text>
<text transform="translate(12.90,263.70) rotate(-90) scale(1.0851,1)" x="-47.29 -40.41 -37.09 -31.06 -28.11 -22.17 -16.74 -10.80 -7.78 -4.07 -1.68 4.14 9.84 15.04 18.20 23.53 29.45 34.80 40.76 43.29" y="0" font-size="10.66">Std/avg (ions/voxel)</text>
<g clip-path="url(#c11)">
<circle cx="231.70" cy="231.55" r="4.3" fill="none" stroke="#ff0000" stroke-width="1.2" stroke-opacity="0.85"/>
<circle cx="238.56" cy="255.30" r="4.3" fill="none" stroke="#ff0000" stroke-width="1.2" stroke-opacity="0.85"/>
<circle cx="257.19" cy="268.65" r="4.3" fill="none" stroke="#ff0000" stroke-width="1.2" stroke-opacity="0.85"/>
<circle cx="293.47" cy="278.55" r="4.3" fill="none" stroke="#ff0000" stroke-width="1.2" stroke-opacity="0.85"/>
<circle cx="353.28" cy="285.75" r="4.3" fill="none" stroke="#ff0000" stroke-width="1.2" stroke-opacity="0.85"/>
<circle cx="231.70" cy="243.50" r="4.3" fill="none" stroke="#ffa500" stroke-width="1.2" stroke-opacity="0.85"/>
<circle cx="238.56" cy="267.05" r="4.3" fill="none" stroke="#ffa500" stroke-width="1.2" stroke-opacity="0.85"/>
<circle cx="257.19" cy="280.95" r="4.3" fill="none" stroke="#ffa500" stroke-width="1.2" stroke-opacity="0.85"/>
<circle cx="293.47" cy="290.45" r="4.3" fill="none" stroke="#ffa500" stroke-width="1.2" stroke-opacity="0.85"/>
<circle cx="353.28" cy="297.70" r="4.3" fill="none" stroke="#ffa500" stroke-width="1.2" stroke-opacity="0.85"/>
<circle cx="231.70" cy="261.70" r="4.3" fill="none" stroke="#0000ff" stroke-width="1.2" stroke-opacity="0.85"/>
<circle cx="238.56" cy="285.40" r="4.3" fill="none" stroke="#0000ff" stroke-width="1.2" stroke-opacity="0.85"/>
<circle cx="257.19" cy="299.10" r="4.3" fill="none" stroke="#0000ff" stroke-width="1.2" stroke-opacity="0.85"/>
<circle cx="293.47" cy="308.40" r="4.3" fill="none" stroke="#0000ff" stroke-width="1.2" stroke-opacity="0.85"/>
<circle cx="353.28" cy="316.05" r="4.3" fill="none" stroke="#0000ff" stroke-width="1.2" stroke-opacity="0.85"/>
<path d="M231.70,228.50L233.70,231.85L231.70,235.20L229.70,231.85Z" fill="#ff0000" fill-opacity="0.8"/>
<path d="M238.56,252.25L240.56,255.60L238.56,258.95L236.56,255.60Z" fill="#ff0000" fill-opacity="0.8"/>
<path d="M257.19,265.60L259.19,268.95L257.19,272.30L255.19,268.95Z" fill="#ff0000" fill-opacity="0.8"/>
<path d="M293.47,275.50L295.47,278.85L293.47,282.20L291.47,278.85Z" fill="#ff0000" fill-opacity="0.8"/>
<path d="M353.28,282.70L355.28,286.05L353.28,289.40L351.28,286.05Z" fill="#ff0000" fill-opacity="0.8"/>
<path d="M231.70,240.45L233.70,243.80L231.70,247.15L229.70,243.80Z" fill="#ffa500" fill-opacity="0.8"/>
<path d="M238.56,264.00L240.56,267.35L238.56,270.70L236.56,267.35Z" fill="#ffa500" fill-opacity="0.8"/>
<path d="M257.19,277.90L259.19,281.25L257.19,284.60L255.19,281.25Z" fill="#ffa500" fill-opacity="0.8"/>
<path d="M293.47,287.40L295.47,290.75L293.47,294.10L291.47,290.75Z" fill="#ffa500" fill-opacity="0.8"/>
<path d="M353.28,294.65L355.28,298.00L353.28,301.35L351.28,298.00Z" fill="#ffa500" fill-opacity="0.8"/>
<path d="M231.70,258.65L233.70,262.00L231.70,265.35L229.70,262.00Z" fill="#0000ff" fill-opacity="0.8"/>
<path d="M238.56,282.35L240.56,285.70L238.56,289.05L236.56,285.70Z" fill="#0000ff" fill-opacity="0.8"/>
<path d="M257.19,296.05L259.19,299.40L257.19,302.75L255.19,299.40Z" fill="#0000ff" fill-opacity="0.8"/>
<path d="M293.47,305.35L295.47,308.70L293.47,312.05L291.47,308.70Z" fill="#0000ff" fill-opacity="0.8"/>
<path d="M353.28,313.00L355.28,316.35L353.28,319.70L351.28,316.35Z" fill="#0000ff" fill-opacity="0.8"/>
</g>
<path d="M226.00,199.80H358.30V327.60H226.00Z" fill="none" stroke="#000" stroke-width="1.1"/>
<line x1="231.70" y1="327.60" x2="231.70" y2="324.90" stroke="#000" stroke-width="0.9"/>
<text transform="translate(231.70,337.00) scale(1.0895,1)" x="-2.61" y="0" font-size="9.13">1</text>
<line x1="238.56" y1="327.60" x2="238.56" y2="324.90" stroke="#000" stroke-width="0.9"/>
<text transform="translate(238.56,337.00) scale(1.0895,1)" x="-2.54" y="0" font-size="9.13">8</text>
<line x1="257.19" y1="327.60" x2="257.19" y2="324.90" stroke="#000" stroke-width="0.9"/>
<text transform="translate(257.19,337.00) scale(1.0895,1)" x="-5.03 0.05" y="0" font-size="9.13">27</text>
<line x1="293.47" y1="327.60" x2="293.47" y2="324.90" stroke="#000" stroke-width="0.9"/>
<text transform="translate(293.47,337.00) scale(1.0895,1)" x="-5.14 -0.05" y="0" font-size="9.13">64</text>
<line x1="353.28" y1="327.60" x2="353.28" y2="324.90" stroke="#000" stroke-width="0.9"/>
<text transform="translate(353.28,337.00) scale(1.0895,1)" x="-7.71 -2.63 2.45" y="0" font-size="9.13">125</text>
<text transform="translate(292.30,349.10) scale(1.0905,1)" x="-37.91 -31.29 -25.39 -20.07 -14.13 -11.66 -8.94 -3.74 -1.48 3.52 9.35 12.64 15.93 21.93 31.00 34.97" y="0" font-size="10.66">Voxel size [nm³]</text>
<line x1="226.20" y1="327.60" x2="228.90" y2="327.60" stroke="#000" stroke-width="0.9"/>
<line x1="226.20" y1="312.16" x2="227.70" y2="312.16" stroke="#000" stroke-width="0.7"/>
<line x1="226.20" y1="303.12" x2="227.70" y2="303.12" stroke="#000" stroke-width="0.7"/>
<line x1="226.20" y1="296.71" x2="227.70" y2="296.71" stroke="#000" stroke-width="0.7"/>
<line x1="226.20" y1="291.74" x2="227.70" y2="291.74" stroke="#000" stroke-width="0.7"/>
<line x1="226.20" y1="287.68" x2="227.70" y2="287.68" stroke="#000" stroke-width="0.7"/>
<line x1="226.20" y1="284.25" x2="227.70" y2="284.25" stroke="#000" stroke-width="0.7"/>
<line x1="226.20" y1="281.27" x2="227.70" y2="281.27" stroke="#000" stroke-width="0.7"/>
<line x1="226.20" y1="278.65" x2="227.70" y2="278.65" stroke="#000" stroke-width="0.7"/>
<text transform="translate(203.35,331.00) scale(1.0895,1)" x="-0.91 4.35" y="0" font-size="9.45">10</text>
<text transform="translate(214.55,327.80) scale(1.2314,1)" x="-0.32 3.48" y="0" font-size="6.51">−2</text>
<line x1="226.20" y1="276.30" x2="228.90" y2="276.30" stroke="#000" stroke-width="0.9"/>
<line x1="226.20" y1="260.86" x2="227.70" y2="260.86" stroke="#000" stroke-width="0.7"/>
<line x1="226.20" y1="251.82" x2="227.70" y2="251.82" stroke="#000" stroke-width="0.7"/>
<line x1="226.20" y1="245.41" x2="227.70" y2="245.41" stroke="#000" stroke-width="0.7"/>
<line x1="226.20" y1="240.44" x2="227.70" y2="240.44" stroke="#000" stroke-width="0.7"/>
<line x1="226.20" y1="236.38" x2="227.70" y2="236.38" stroke="#000" stroke-width="0.7"/>
<line x1="226.20" y1="232.95" x2="227.70" y2="232.95" stroke="#000" stroke-width="0.7"/>
<line x1="226.20" y1="229.97" x2="227.70" y2="229.97" stroke="#000" stroke-width="0.7"/>
<line x1="226.20" y1="227.35" x2="227.70" y2="227.35" stroke="#000" stroke-width="0.7"/>
<text transform="translate(203.35,279.70) scale(1.0895,1)" x="-0.91 4.35" y="0" font-size="9.45">10</text>
<text transform="translate(214.55,276.50) scale(1.2314,1)" x="-0.32 3.48" y="0" font-size="6.51">−1</text>
<line x1="226.20" y1="225.00" x2="228.90" y2="225.00" stroke="#000" stroke-width="0.9"/>
<line x1="226.20" y1="209.56" x2="227.70" y2="209.56" stroke="#000" stroke-width="0.7"/>
<line x1="226.20" y1="200.52" x2="227.70" y2="200.52" stroke="#000" stroke-width="0.7"/>
<text transform="translate(208.35,228.40) scale(1.0895,1)" x="-0.91 4.35" y="0" font-size="9.45">10</text>
<text transform="translate(219.05,225.20) scale(1.0895,1)" x="-0.38" y="0" font-size="6.51">0</text>
<rect x="295.40" y="204.00" width="57.70" height="53.20" rx="2" ry="2" fill="#fff" fill-opacity="0.8" stroke="#cccccc" stroke-width="0.9"/>
<circle cx="307.30" cy="211.20" r="4.3" fill="none" stroke="#0000ff" stroke-width="1.2" stroke-opacity="0.85"/>
<text transform="translate(314.00,214.30) scale(1.0974,1)" x="-0.43 5.21 8.37 10.94 13.81 18.27 20.45 28.19" y="0" font-size="9.19">Zr (sim)</text>
<circle cx="307.30" cy="224.05" r="4.3" fill="none" stroke="#ffa500" stroke-width="1.2" stroke-opacity="0.85"/>
<text transform="translate(314.00,227.15) scale(1.0597,1)" x="-0.90 5.36 10.57 13.24 16.23 20.81 23.17 31.10" y="0" font-size="9.19">Cu (sim)</text>
<circle cx="307.30" cy="236.90" r="4.3" fill="none" stroke="#ff0000" stroke-width="1.2" stroke-opacity="0.85"/>
<text transform="translate(314.00,240.00) scale(1.0774,1)" x="-0.35 5.60 7.76 10.38 13.32 17.84 20.11 27.95" y="0" font-size="9.19">Al (sim)</text>
<path d="M307.30,246.70L309.30,250.05L307.30,253.40L305.30,250.05Z" fill="#0000ff" fill-opacity="0.8"/>
<text transform="translate(314.00,252.85) scale(1.0524,1)" x="-0.59 4.70 9.94 12.32" y="0" font-size="9.19">75 W</text>
<text transform="translate(292.05,194.80) scale(1.0887,1)" x="-58.62 -54.41 -47.35 -43.03 -39.91 -31.68 -20.75 -17.91 -10.80 -4.28 -0.73 6.56 11.13 14.10 21.63 25.61 29.17 36.30 43.43 46.49" y="0" font-size="12.81">(e) Amloy print 75 W</text>
<text transform="translate(197.90,263.70) rotate(-90) scale(1.0851,1)" x="-47.29 -40.41 -37.09 -31.06 -28.11 -22.17 -16.74 -10.80 -7.78 -4.07 -1.68 4.14 9.84 15.04 18.20 23.53 29.45 34.80 40.76 43.29" y="0" font-size="10.66">Std/avg (ions/voxel)</text>
<g clip-path="url(#c21)">
<circle cx="416.70" cy="231.55" r="4.3" fill="none" stroke="#ff0000" stroke-width="1.2" stroke-opacity="0.85"/>
<circle cx="423.56" cy="255.30" r="4.3" fill="none" stroke="#ff0000" stroke-width="1.2" stroke-opacity="0.85"/>
<circle cx="442.19" cy="268.65" r="4.3" fill="none" stroke="#ff0000" stroke-width="1.2" stroke-opacity="0.85"/>
<circle cx="478.47" cy="278.55" r="4.3" fill="none" stroke="#ff0000" stroke-width="1.2" stroke-opacity="0.85"/>
<circle cx="538.28" cy="285.75" r="4.3" fill="none" stroke="#ff0000" stroke-width="1.2" stroke-opacity="0.85"/>
<circle cx="416.70" cy="243.50" r="4.3" fill="none" stroke="#ffa500" stroke-width="1.2" stroke-opacity="0.85"/>
<circle cx="423.56" cy="267.05" r="4.3" fill="none" stroke="#ffa500" stroke-width="1.2" stroke-opacity="0.85"/>
<circle cx="442.19" cy="280.95" r="4.3" fill="none" stroke="#ffa500" stroke-width="1.2" stroke-opacity="0.85"/>
<circle cx="478.47" cy="290.45" r="4.3" fill="none" stroke="#ffa500" stroke-width="1.2" stroke-opacity="0.85"/>
<circle cx="538.28" cy="297.70" r="4.3" fill="none" stroke="#ffa500" stroke-width="1.2" stroke-opacity="0.85"/>
<circle cx="416.70" cy="261.70" r="4.3" fill="none" stroke="#0000ff" stroke-width="1.2" stroke-opacity="0.85"/>
<circle cx="423.56" cy="285.40" r="4.3" fill="none" stroke="#0000ff" stroke-width="1.2" stroke-opacity="0.85"/>
<circle cx="442.19" cy="299.10" r="4.3" fill="none" stroke="#0000ff" stroke-width="1.2" stroke-opacity="0.85"/>
<circle cx="478.47" cy="308.40" r="4.3" fill="none" stroke="#0000ff" stroke-width="1.2" stroke-opacity="0.85"/>
<circle cx="538.28" cy="316.05" r="4.3" fill="none" stroke="#0000ff" stroke-width="1.2" stroke-opacity="0.85"/>
<circle cx="416.70" cy="231.55" r="2.45" fill="#ff0000" fill-opacity="0.8"/>
<circle cx="423.56" cy="255.30" r="2.45" fill="#ff0000" fill-opacity="0.8"/>
<circle cx="442.19" cy="268.65" r="2.45" fill="#ff0000" fill-opacity="0.8"/>
<circle cx="478.47" cy="278.55" r="2.45" fill="#ff0000" fill-opacity="0.8"/>
<circle cx="538.28" cy="285.75" r="2.45" fill="#ff0000" fill-opacity="0.8"/>
<circle cx="416.70" cy="243.50" r="2.45" fill="#ffa500" fill-opacity="0.8"/>
<circle cx="423.56" cy="267.05" r="2.45" fill="#ffa500" fill-opacity="0.8"/>
<circle cx="442.19" cy="280.95" r="2.45" fill="#ffa500" fill-opacity="0.8"/>
<circle cx="478.47" cy="290.45" r="2.45" fill="#ffa500" fill-opacity="0.8"/>
<circle cx="538.28" cy="297.70" r="2.45" fill="#ffa500" fill-opacity="0.8"/>
<circle cx="416.70" cy="261.70" r="2.45" fill="#0000ff" fill-opacity="0.8"/>
<circle cx="423.56" cy="285.40" r="2.45" fill="#0000ff" fill-opacity="0.8"/>
<circle cx="442.19" cy="299.10" r="2.45" fill="#0000ff" fill-opacity="0.8"/>
<circle cx="478.47" cy="308.40" r="2.45" fill="#0000ff" fill-opacity="0.8"/>
<circle cx="538.28" cy="316.05" r="2.45" fill="#0000ff" fill-opacity="0.8"/>
</g>
<path d="M411.00,199.80H543.30V327.60H411.00Z" fill="none" stroke="#000" stroke-width="1.1"/>
<line x1="416.70" y1="327.60" x2="416.70" y2="324.90" stroke="#000" stroke-width="0.9"/>
<text transform="translate(416.70,337.00) scale(1.0895,1)" x="-2.61" y="0" font-size="9.13">1</text>
<line x1="423.56" y1="327.60" x2="423.56" y2="324.90" stroke="#000" stroke-width="0.9"/>
<text transform="translate(423.56,337.00) scale(1.0895,1)" x="-2.54" y="0" font-size="9.13">8</text>
<line x1="442.19" y1="327.60" x2="442.19" y2="324.90" stroke="#000" stroke-width="0.9"/>
<text transform="translate(442.19,337.00) scale(1.0895,1)" x="-5.03 0.05" y="0" font-size="9.13">27</text>
<line x1="478.47" y1="327.60" x2="478.47" y2="324.90" stroke="#000" stroke-width="0.9"/>
<text transform="translate(478.47,337.00) scale(1.0895,1)" x="-5.14 -0.05" y="0" font-size="9.13">64</text>
<line x1="538.28" y1="327.60" x2="538.28" y2="324.90" stroke="#000" stroke-width="0.9"/>
<text transform="translate(538.28,337.00) scale(1.0895,1)" x="-7.71 -2.63 2.45" y="0" font-size="9.13">125</text>
<text transform="translate(477.30,349.10) scale(1.0905,1)" x="-37.91 -31.29 -25.39 -20.07 -14.13 -11.66 -8.94 -3.74 -1.48 3.52 9.35 12.64 15.93 21.93 31.00 34.97" y="0" font-size="10.66">Voxel size [nm³]</text>
<line x1="411.20" y1="327.60" x2="413.90" y2="327.60" stroke="#000" stroke-width="0.9"/>
<line x1="411.20" y1="312.16" x2="412.70" y2="312.16" stroke="#000" stroke-width="0.7"/>
<line x1="411.20" y1="303.12" x2="412.70" y2="303.12" stroke="#000" stroke-width="0.7"/>
<line x1="411.20" y1="296.71" x2="412.70" y2="296.71" stroke="#000" stroke-width="0.7"/>
<line x1="411.20" y1="291.74" x2="412.70" y2="291.74" stroke="#000" stroke-width="0.7"/>
<line x1="411.20" y1="287.68" x2="412.70" y2="287.68" stroke="#000" stroke-width="0.7"/>
<line x1="411.20" y1="284.25" x2="412.70" y2="284.25" stroke="#000" stroke-width="0.7"/>
<line x1="411.20" y1="281.27" x2="412.70" y2="281.27" stroke="#000" stroke-width="0.7"/>
<line x1="411.20" y1="278.65" x2="412.70" y2="278.65" stroke="#000" stroke-width="0.7"/>
<text transform="translate(388.35,331.00) scale(1.0895,1)" x="-0.91 4.35" y="0" font-size="9.45">10</text>
<text transform="translate(399.55,327.80) scale(1.2314,1)" x="-0.32 3.48" y="0" font-size="6.51">−2</text>
<line x1="411.20" y1="276.30" x2="413.90" y2="276.30" stroke="#000" stroke-width="0.9"/>
<line x1="411.20" y1="260.86" x2="412.70" y2="260.86" stroke="#000" stroke-width="0.7"/>
<line x1="411.20" y1="251.82" x2="412.70" y2="251.82" stroke="#000" stroke-width="0.7"/>
<line x1="411.20" y1="245.41" x2="412.70" y2="245.41" stroke="#000" stroke-width="0.7"/>
<line x1="411.20" y1="240.44" x2="412.70" y2="240.44" stroke="#000" stroke-width="0.7"/>
<line x1="411.20" y1="236.38" x2="412.70" y2="236.38" stroke="#000" stroke-width="0.7"/>
<line x1="411.20" y1="232.95" x2="412.70" y2="232.95" stroke="#000" stroke-width="0.7"/>
<line x1="411.20" y1="229.97" x2="412.70" y2="229.97" stroke="#000" stroke-width="0.7"/>
<line x1="411.20" y1="227.35" x2="412.70" y2="227.35" stroke="#000" stroke-width="0.7"/>
<text transform="translate(388.35,279.70) scale(1.0895,1)" x="-0.91 4.35" y="0" font-size="9.45">10</text>
<text transform="translate(399.55,276.50) scale(1.2314,1)" x="-0.32 3.48" y="0" font-size="6.51">−1</text>
<line x1="411.20" y1="225.00" x2="413.90" y2="225.00" stroke="#000" stroke-width="0.9"/>
<line x1="411.20" y1="209.56" x2="412.70" y2="209.56" stroke="#000" stroke-width="0.7"/>
<line x1="411.20" y1="200.52" x2="412.70" y2="200.52" stroke="#000" stroke-width="0.7"/>
<text transform="translate(393.35,228.40) scale(1.0895,1)" x="-0.91 4.35" y="0" font-size="9.45">10</text>
<text transform="translate(404.05,225.20) scale(1.0895,1)" x="-0.38" y="0" font-size="6.51">0</text>
<rect x="480.40" y="204.00" width="57.70" height="53.20" rx="2" ry="2" fill="#fff" fill-opacity="0.8" stroke="#cccccc" stroke-width="0.9"/>
<circle cx="492.30" cy="211.20" r="4.3" fill="none" stroke="#0000ff" stroke-width="1.2" stroke-opacity="0.85"/>
<text transform="translate(499.00,214.30) scale(1.0974,1)" x="-0.43 5.21 8.37 10.94 13.81 18.27 20.45 28.19" y="0" font-size="9.19">Zr (sim)</text>
<circle cx="492.30" cy="224.05" r="4.3" fill="none" stroke="#ffa500" stroke-width="1.2" stroke-opacity="0.85"/>
<text transform="translate(499.00,227.15) scale(1.0597,1)" x="-0.90 5.36 10.57 13.24 16.23 20.81 23.17 31.10" y="0" font-size="9.19">Cu (sim)</text>
<circle cx="492.30" cy="236.90" r="4.3" fill="none" stroke="#ff0000" stroke-width="1.2" stroke-opacity="0.85"/>
<text transform="translate(499.00,240.00) scale(1.0774,1)" x="-0.35 5.60 7.76 10.38 13.32 17.84 20.11 27.95" y="0" font-size="9.19">Al (sim)</text>
<circle cx="492.30" cy="249.75" r="2.45" fill="#0000ff" fill-opacity="0.8"/>
<text transform="translate(499.00,252.85) scale(1.0524,1)" x="-0.47 4.82 10.06 12.43" y="0" font-size="9.19">85 W</text>
<text transform="translate(477.05,194.80) scale(1.0946,1)" x="-56.84 -52.35 -48.57 -44.27 -41.18 -33.00 -22.11 -19.30 -12.23 -5.74 -2.21 5.05 9.60 12.54 20.04 23.99 27.53 34.62 41.72 44.74" y="0" font-size="12.81">(f) Amloy print 85 W</text>
<text transform="translate(382.90,263.70) rotate(-90) scale(1.0851,1)" x="-47.29 -40.41 -37.09 -31.06 -28.11 -22.17 -16.74 -10.80 -7.78 -4.07 -1.68 4.14 9.84 15.04 18.20 23.53 29.45 34.80 40.76 43.29" y="0" font-size="10.66">Std/avg (ions/voxel)</text>
</g>
</svg>
</body></html>
